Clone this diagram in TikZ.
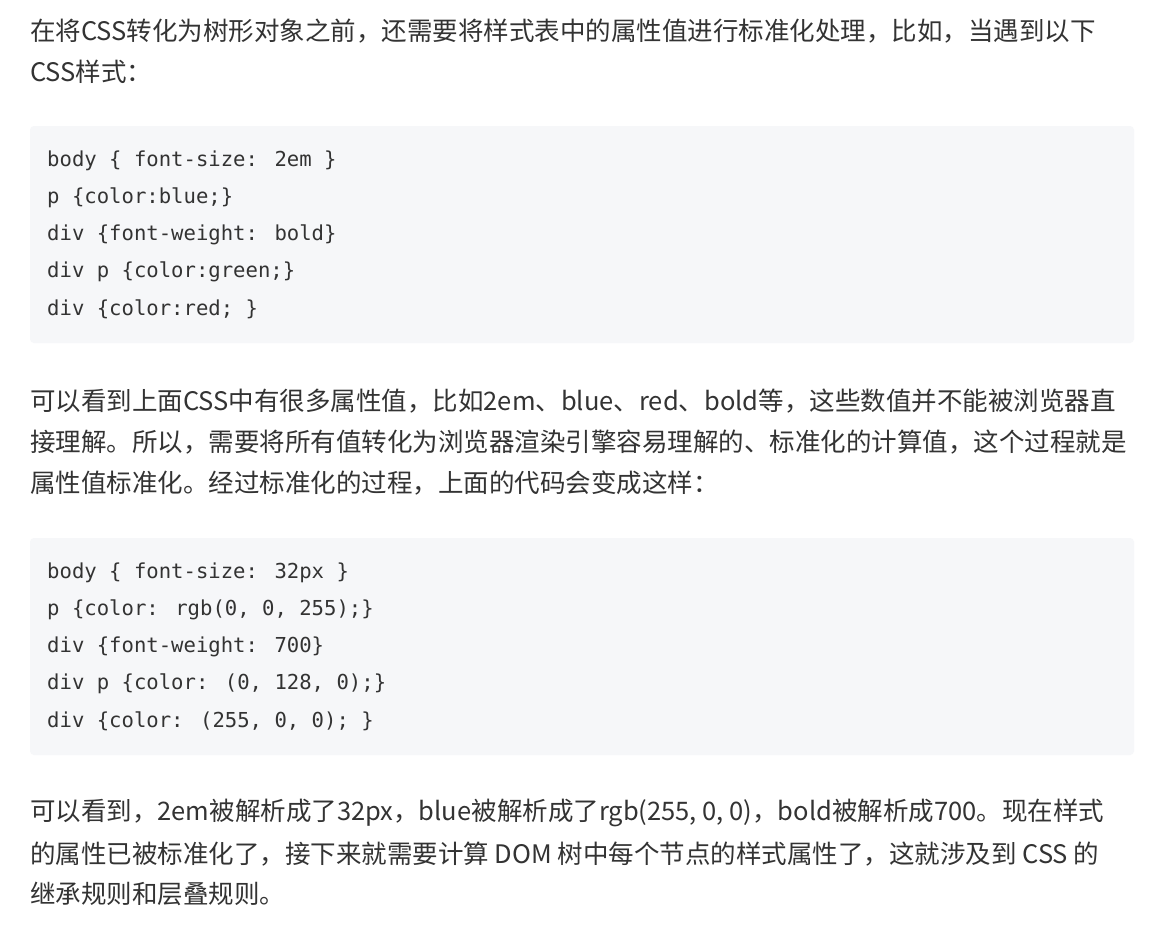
\documentclass[tikz,border=0pt]{standalone}
\usepackage{fontspec}
\setmainfont{Noto Sans CJK SC}
\newfontfamily\codefont{DejaVu Sans Mono}
\definecolor{txt}{HTML}{333333}
\definecolor{codebg}{HTML}{F6F7F9}
\begin{document}
\begin{tikzpicture}[x=1pt,y=-1pt,
  para/.style={anchor=west,inner sep=0pt,text=txt,font=\fontsize{25.5}{30}\selectfont},
  code/.style={anchor=west,inner sep=0pt,text=txt,font=\codefont\fontsize{20.6}{24}\selectfont},
  box/.style={fill=codebg,draw=none,rounded corners=4pt}]
\useasboundingbox[fill=white] (0,0) rectangle (1151,927);
\fill[box] (30,126) rectangle (1134,343);
\fill[box] (30,538) rectangle (1134,755);
\node[para] (p1) at (30,31) {在将CSS转化为树形对象之前，还需要将样式表中的属性值进行标准化处理，比如，当遇到以下};
\node[para] (p2) at (30,72) {CSS样式：};
\node[code] (a1) at (47,161) {body \{ font-size: 2em \}};
\node[code] (a2) at (47,198) {p \{color:blue;\}};
\node[code] (a3) at (47,235) {div \{font-weight: bold\}};
\node[code] (a4) at (47,272) {div p \{color:green;\}};
\node[code] (a5) at (47,309) {div \{color:red; \}};
\node[para] (q1) at (30,401) {可以看到上面CSS中有很多属性值，比如2em、blue、red、bold等，这些数值并不能被浏览器直};
\node[para] (q2) at (30,442) {接理解。所以，需要将所有值转化为浏览器渲染引擎容易理解的、标准化的计算值，这个过程就是};
\node[para] (q3) at (30,483) {属性值标准化。经过标准化的过程，上面的代码会变成这样：};
\node[code] (b1) at (47,573) {body \{ font-size: 32px \}};
\node[code] (b2) at (47,610) {p \{color: rgb(0, 0, 255);\}};
\node[code] (b3) at (47,647) {div \{font-weight: 700\}};
\node[code] (b4) at (47,684) {div p \{color: (0, 128, 0);\}};
\node[code] (b5) at (47,721) {div \{color: (255, 0, 0); \}};
\node[para] (r1) at (30,813) {可以看到，2em被解析成了32px，blue被解析成了rgb(255, 0, 0)，bold被解析成700。现在样式};
\node[para] (r2) at (30,854) {的属性已被标准化了，接下来就需要计算 DOM 树中每个节点的样式属性了，这就涉及到 CSS 的};
\node[para] (r3) at (30,894) {继承规则和层叠规则。};
\end{tikzpicture}
\end{document}
